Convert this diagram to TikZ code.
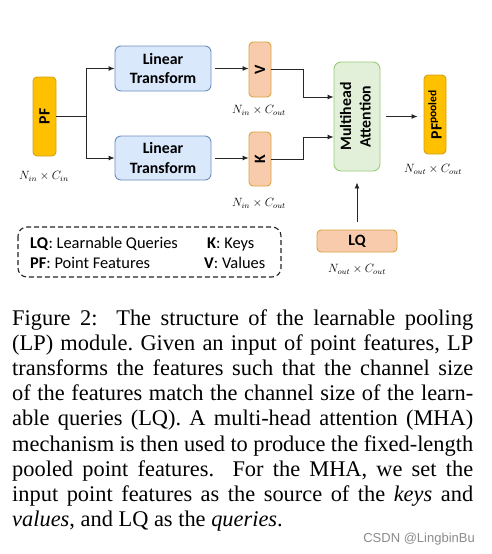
\documentclass[tikz,border=0pt]{standalone}
\usepackage{graphicx}
\usepackage{fontspec}
\setmainfont{Liberation Serif}
\newfontfamily\carl{Carlito}
\newfontfamily\wmfont{Liberation Sans}
\usetikzlibrary{arrows.meta}
\definecolor{pfFill}{HTML}{FFC000}
\definecolor{pfDraw}{HTML}{D4A017}
\definecolor{pcFill}{HTML}{F8CBAD}
\definecolor{pcDraw}{HTML}{D9A441}
\definecolor{ltFill}{HTML}{DAE8FC}
\definecolor{ltDraw}{HTML}{6C8EBF}
\definecolor{mhFill}{HTML}{E2F0D9}
\definecolor{mhDraw}{HTML}{97CC79}
\definecolor{lineC}{HTML}{262626}
\tikzset{
  box/.style={draw, rounded corners=4pt, line width=0.9pt, inner sep=0pt,
    align=center, font=\carl\bfseries\fontsize{15.8}{19.5}\selectfont},
  pfbox/.style={box, fill=pfFill, draw=pfDraw},
  pcbox/.style={box, fill=pcFill, draw=pcDraw},
  ltbox/.style={box, fill=ltFill, draw=ltDraw, rounded corners=6pt},
  mhbox/.style={box, fill=mhFill, draw=mhDraw, rounded corners=7pt},
  arr/.style={-{Latex[length=6pt,width=5pt]}, line width=0.9pt, draw=lineC},
  conn/.style={line width=0.9pt, draw=lineC},
  dimlbl/.style={inner sep=0pt, font=\fontsize{12}{14}\selectfont},
  legtxt/.style={inner sep=0pt, font=\carl\fontsize{16.4}{17}\selectfont},
}
\begin{document}
\begin{tikzpicture}[x=1pt, y=-1pt]
\useasboundingbox (0,0) rectangle (491,554);
\fill[white] (0,0) rectangle (491,554);

% boxes
\node[pfbox, minimum width=23pt, minimum height=79pt] (pf) at (44.5,116.5) {\rotatebox{90}{PF}};
\node[ltbox, minimum width=96pt, minimum height=45pt] (lt1) at (163,68.5) {Linear\\Transform};
\node[ltbox, minimum width=96pt, minimum height=44pt] (lt2) at (163,158) {Linear\\Transform};
\node[pcbox, minimum width=22pt, minimum height=55pt] (v) at (260,69.5) {\rotatebox{90}{V}};
\node[pcbox, minimum width=22pt, minimum height=54pt] (k) at (260,159) {\rotatebox{90}{K}};
\node[mhbox, minimum width=46pt, minimum height=109pt] (mha) at (357,116.5)
  {\rotatebox{90}{\begin{tabular}{@{}c@{}}Multihead\\Attention\end{tabular}}};
\node[pfbox, minimum width=22pt, minimum height=79pt] (pfp) at (435,114.5)
  {\rotatebox{90}{PF\textsuperscript{\fontsize{11.5}{12}\selectfont pooled}}};
\node[pcbox, minimum width=80pt, minimum height=22pt] (lq) at (357,241) {LQ};

% dimension labels
\node[dimlbl] (dpf) at (44,176) {$N_{in}\times C_{in}$};
\node[dimlbl] (dv) at (259,110) {$N_{in}\times C_{out}$};
\node[dimlbl] (dk) at (259,203) {$N_{in}\times C_{out}$};
\node[dimlbl] (dpfp) at (433,169) {$N_{out}\times C_{out}$};
\node[dimlbl] (dlq) at (357,269) {$N_{out}\times C_{out}$};

% connectors
\coordinate (split) at (86,116.5);
\draw[conn] (pf.east) -- (split);
\draw[arr] (split) |- (lt1.west);
\draw[arr] (split) |- (lt2.west);
\draw[arr, shorten <=4pt] (lt1.east) -- (lt1.east -| v.west);
\draw[arr, shorten <=4pt] (lt2.east) -- (lt2.east -| k.west);
\draw[arr] (v.east) -- ++(32,0) |- ([yshift=19.5pt]mha.west);
\draw[arr] (k.east) -- ++(32,0) |- ([yshift=-20.5pt]mha.west);
\draw[arr, shorten <=6pt, shorten >=6pt] (mha.east) -- (mha.east -| pfp.west);
\draw[arr, shorten <=8pt, shorten >=11pt] (lq.north) -- (mha.south);

% legend
\draw[line width=1.1pt, dash pattern=on 5pt off 3pt, rounded corners=9pt, draw=lineC]
  (18,227) rectangle (281,277);
\node[legtxt, anchor=base west] (l1) at (30,248) {\textbf{LQ}: Learnable Queries};
\node[legtxt, anchor=base west] (l2) at (30,268) {\textbf{PF}: Point Features};
\node[legtxt, anchor=base west] (l3) at (207,248) {\textbf{K}: Keys};
\node[legtxt, anchor=base west] (l4) at (204,268) {\textbf{V}: Values};

% caption
\node[anchor=base west, inner sep=0pt] (cap) at (12,325) {\vtop{\hsize=461pt
  \fontsize{22.4}{25.2}\selectfont\frenchspacing
  \hbox to\hsize{Figure 2:\ \ The structure of the learnable pooling}
  \hbox to\hsize{(LP) module. Given an input of point features, LP}
  \hbox to\hsize{transforms the features such that the channel size}
  \hbox to\hsize{of the features match the channel size of the learn-}
  \hbox to\hsize{able queries (LQ). A multi-head attention (MHA)}
  \hbox to\hsize{mechanism is then used to produce the fixed-length}
  \hbox to\hsize{pooled point features.\ \ For the MHA, we set the}
  \hbox to\hsize{input point features as the source of the \textit{keys} and}
  \hbox{\textit{values}, and LQ as the \textit{queries}.}}};

\node[anchor=base east, inner sep=0pt, text=black!45] (wm) at (475,542)
  {\wmfont\fontsize{13}{15}\selectfont CSDN @LingbinBu};
\end{tikzpicture}
\end{document}
